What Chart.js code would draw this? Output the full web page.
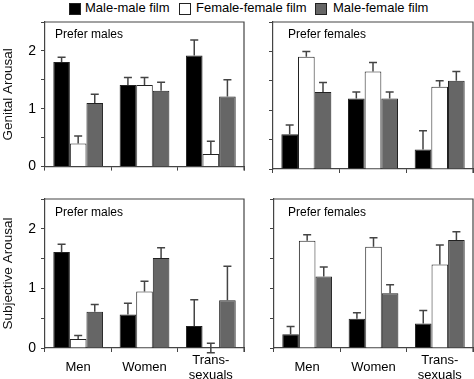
<!DOCTYPE html>
<html>
<head>
<meta charset="utf-8">
<script src="https://cdn.jsdelivr.net/npm/chart.js@4"></script>
<style>
  body { margin: 0; background: #fff; font-family: "Liberation Sans", Arial, sans-serif; }
  #wrap { position: relative; width: 474px; height: 379px; overflow: hidden; }
  canvas { position: absolute; }
  .sw { position: absolute; top: 3px; width: 10px; height: 10px; border: 1px solid #222; }
  .lt { position: absolute; top: 0; font-size: 13px; line-height: 16px; color: #000; white-space: nowrap; }
  .pt { position: absolute; font-size: 12px; line-height: 14px; color: #000; white-space: nowrap; }
</style>
</head>
<body>
<div id="wrap">
  <div class="sw" style="left:69px;background:#000"></div><div class="lt" style="left:85px">Male-male film</div>
  <div class="sw" style="left:179px;background:#fff"></div><div class="lt" style="left:196px">Female-female film</div>
  <div class="sw" style="left:315px;background:#666"></div><div class="lt" style="left:333px">Male-female film</div>
  <canvas id="c1" width="250" height="180" style="left:0;top:0"></canvas>
  <canvas id="c2" width="219" height="180" style="left:255px;top:0"></canvas>
  <canvas id="c3" width="250" height="194" style="left:0;top:185px"></canvas>
  <canvas id="c4" width="219" height="194" style="left:255px;top:185px"></canvas>
  <div class="pt" style="left:55px;top:27px">Prefer males</div>
  <div class="pt" style="left:288px;top:27px">Prefer females</div>
  <div class="pt" style="left:55px;top:205px">Prefer males</div>
  <div class="pt" style="left:288px;top:205px">Prefer females</div>
</div>
<script>
var groups = ['Men', 'Women', ['Trans-', 'sexuals']]
var films = ['Male-male film', 'Female-female film', 'Male-female film']
var filmColors = ['#000000', '#ffffff', '#666666']

// Genital arousal, prefer males
var genMaleMM = [1.81, 1.41, 1.92]
var genMaleFF = [0.40, 1.41, 0.22]
var genMaleMF = [1.10, 1.31, 1.21]
var genMaleErrMM = [0.08, 0.13, 0.27]
var genMaleErrFF = [0.13, 0.13, 0.22]
var genMaleErrMF = [0.15, 0.15, 0.29]

// Genital arousal, prefer females
var genFemMM = [0.59, 1.20, 0.33]
var genFemFF = [1.91, 1.66, 1.40]
var genFemMF = [1.31, 1.20, 1.50]
var genFemErrMM = [0.16, 0.11, 0.32]
var genFemErrFF = [0.09, 0.15, 0.10]
var genFemErrMF = [0.16, 0.11, 0.16]

// Subjective arousal, prefer males
var subMaleMM = [1.61, 0.56, 0.37]
var subMaleFF = [0.15, 0.95, 0.0]
var subMaleMF = [0.61, 1.51, 0.80]
var subMaleErrMM = [0.13, 0.19, 0.44]
var subMaleErrFF = [0.06, 0.17, 0.08]
var subMaleErrMF = [0.12, 0.17, 0.57]

// Subjective arousal, prefer females
var subFemMM = [0.23, 0.49, 0.41]
var subFemFF = [1.80, 1.70, 1.40]
var subFemMF = [1.20, 0.92, 1.81]
var subFemErrMM = [0.13, 0.10, 0.22]
var subFemErrFF = [0.10, 0.15, 0.33]
var subFemErrMF = [0.16, 0.14, 0.14]

var yTicks = [0, 0.5, 1, 1.5, 2, 2.5]
var fontFamily = '"Liberation Sans", Arial, sans-serif'

// error bars: line from bar top up to value + err, cap on top
var errorBars = {
    id: 'errorBars',
    afterDatasetsDraw: function(chart) {
        var ctx = chart.ctx
        var y = chart.scales.y
        ctx.save()
        ctx.strokeStyle = '#444'
        ctx.lineWidth = 1.5
        chart.data.datasets.forEach(function(ds, i) {
            chart.getDatasetMeta(i).data.forEach(function(bar, j) {
                var v = ds.data[j], e = ds.errors[j]
                var lo = v < 0.05 ? y.getPixelForValue(v - e) : bar.y
                var hi = y.getPixelForValue(v + e)
                ctx.beginPath()
                ctx.moveTo(bar.x, lo); ctx.lineTo(bar.x, hi)
                ctx.moveTo(bar.x - 4, hi); ctx.lineTo(bar.x + 4, hi)
                if (v < 0.05) { ctx.moveTo(bar.x - 4, lo); ctx.lineTo(bar.x + 4, lo) }
                ctx.stroke()
            })
        })
        ctx.restore()
    }
}

// top and right edges of the frame
var frame = {
    id: 'frame',
    afterDraw: function(chart) {
        var a = chart.chartArea, ctx = chart.ctx
        ctx.save()
        ctx.strokeStyle = '#444'
        ctx.lineWidth = 1.2
        ctx.beginPath()
        ctx.moveTo(a.left, a.top); ctx.lineTo(a.right, a.top); ctx.lineTo(a.right, a.bottom + 4)
        ctx.stroke()
        ctx.restore()
    }
}

function makePanel(id, mm, ff, mf, emm, eff, emf, opt) {
    var vals = [mm, ff, mf], errs = [emm, eff, emf]
    var datasets = films.map(function(f, i) {
        return {
            label: f, data: vals[i], errors: errs[i],
            backgroundColor: filmColors[i], borderColor: '#222', borderWidth: 1,
            barPercentage: 1, categoryPercentage: 0.75
        }
    })
    new Chart(document.getElementById(id), {
        type: 'bar',
        data: { labels: groups, datasets: datasets },
        plugins: [errorBars, frame],
        options: {
            responsive: false, animation: false,
            layout: { padding: { top: opt.top, right: opt.right, left: 0, bottom: 0 } },
            plugins: { legend: { display: false }, tooltip: { enabled: false } },
            scales: {
                x: {
                    grid: { drawOnChartArea: false, tickLength: 4, color: '#444' },
                    border: { color: '#444', width: 1.2 },
                    ticks: {
                        display: opt.xLabels, color: '#000', padding: 8, crossAlign: 'center',
                        font: { family: fontFamily, size: 13, lineHeight: 1.15 }
                    },
                    afterFit: function(s) { s.height = opt.xh }
                },
                y: {
                    min: 0, max: 2.5,
                    afterBuildTicks: function(s) { s.ticks = yTicks.map(function(v) { return { value: v } }) },
                    grid: { drawOnChartArea: false, tickLength: 4, color: '#444' },
                    border: { color: '#444', width: 1.2 },
                    ticks: {
                        display: opt.yLabels, color: '#000', padding: 5,
                        font: { family: fontFamily, size: 14 },
                        callback: function(v) { return (v === 0 || v === 1 || v === 2) ? String(v) : '' }
                    },
                    title: {
                        display: !!opt.title, text: opt.title || '', color: '#111', padding: 0,
                        font: { family: fontFamily, size: 13.5 }
                    },
                    afterFit: function(s) { s.width = opt.yw }
                }
            }
        }
    })
}

makePanel('c1', genMaleMM, genMaleFF, genMaleMF, genMaleErrMM, genMaleErrFF, genMaleErrMF,
    { top: 22, right: 6, xh: 11, yw: 45, xLabels: false, yLabels: true, title: 'Genital Arousal' })
makePanel('c2', genFemMM, genFemFF, genFemMF, genFemErrMM, genFemErrFF, genFemErrMF,
    { top: 22, right: 1, xh: 11, yw: 18, xLabels: false, yLabels: false })
makePanel('c3', subMaleMM, subMaleFF, subMaleMF, subMaleErrMM, subMaleErrFF, subMaleErrMF,
    { top: 14, right: 6, xh: 31, yw: 45, xLabels: true, yLabels: true, title: 'Subjective Arousal' })
makePanel('c4', subFemMM, subFemFF, subFemMF, subFemErrMM, subFemErrFF, subFemErrMF,
    { top: 14, right: 1, xh: 31, yw: 19, xLabels: true, yLabels: false })
</script>
</body>
</html>
